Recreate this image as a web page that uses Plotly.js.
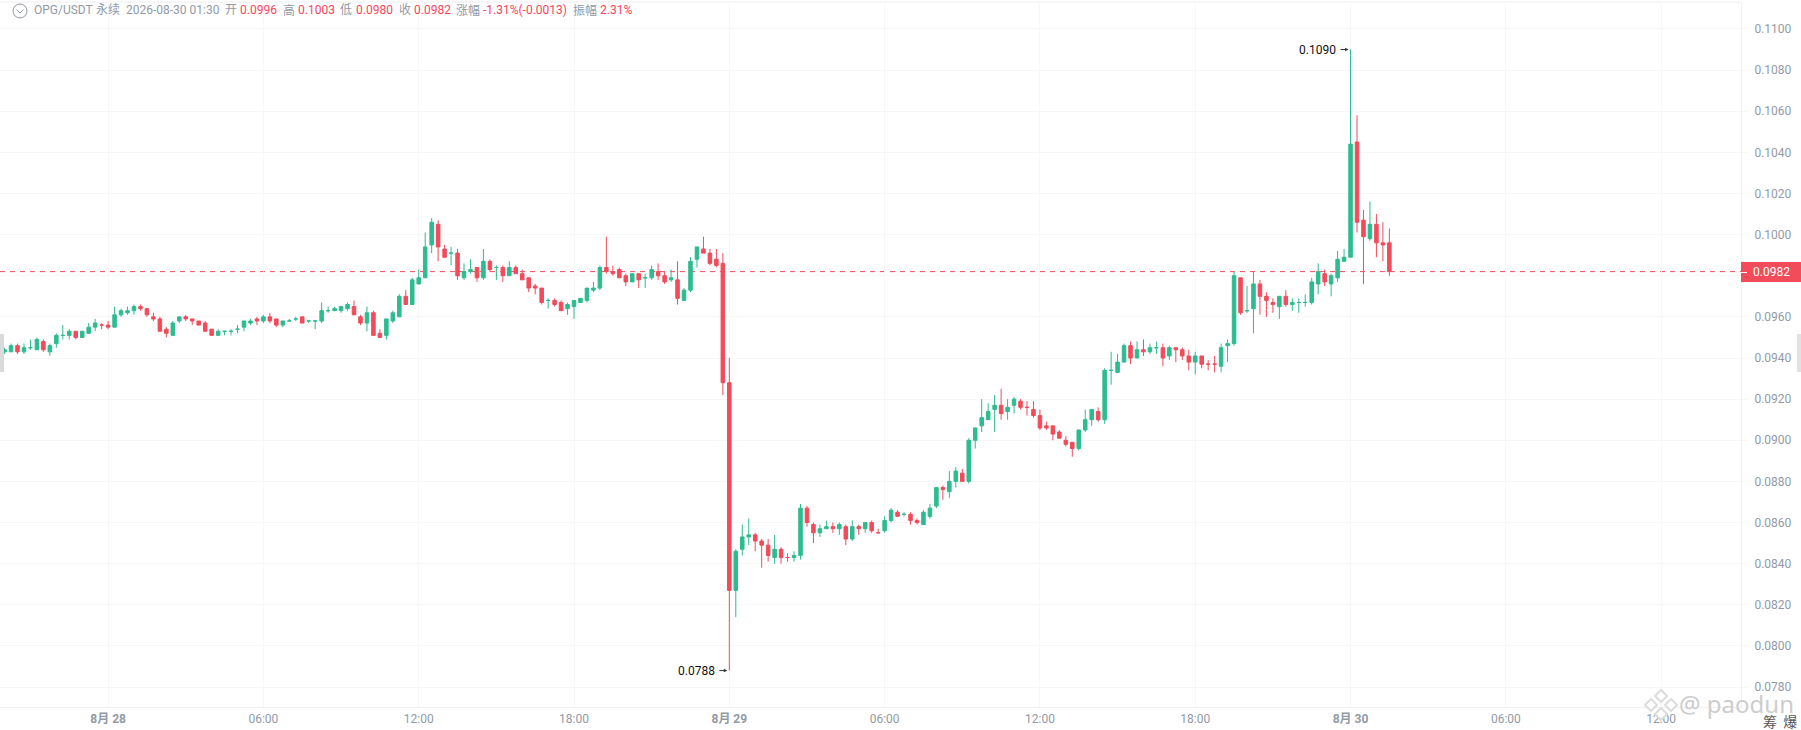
<!DOCTYPE html>
<html><head><meta charset="utf-8">
<script src="https://cdn.plot.ly/plotly-3.0.1.min.js"></script>
<style>html,body{margin:0;padding:0;background:#fff;overflow:hidden}#c{width:1801px;height:730px}</style>
</head><body><div id="c"></div>
<script>
const opens=[0.0943,0.0943,0.0946,0.0943,0.0945,0.0944,0.0948,0.0943,0.0947,0.0951,0.0951,0.0953,0.0950,0.0952,0.0955,0.0956,
0.0956,0.0955,0.0961,0.0962,0.0963,0.0965,0.0964,0.0960,0.0959,0.0954,0.0951,0.0958,0.0960,0.0959,0.0958,0.0957,0.0954,0.0951,0.0953,0.0953,0.0954,0.0955,0.0957,0.0959,0.0958,0.0960,0.0959,0.0956,0.0958,0.0959,0.0960,0.0958,0.0958,0.0958,0.0963,0.0963,0.0963,0.0964,0.0965,0.0960,0.0957,0.0962,0.0952,0.0951,0.0958,
0.0960,0.0970,0.0966,0.0976,0.0979,0.0995,0.1005,0.0993,0.0991,0.0991,0.0979,0.0982,0.0984,0.0979,0.0987,0.0984,0.0984,0.0980,0.0984,0.0981,0.0979,0.0975,0.0974,0.0968,0.0968,0.0967,0.0964,0.0965,0.0967,0.0968,0.0973,0.0974,0.0984,0.0982,0.0983,0.0980,0.0977,0.0981,0.0979,0.0979,0.0982,0.0980,0.0978,0.0978,0.0968,0.0973,0.0988,0.0993,0.0991,0.0988,
0.0986,0.0928,0.0827,0.0847,0.0853,0.0854,0.0851,0.0849,0.0843,0.0847,0.0843,0.0843,0.0844,0.0867,0.0859,0.0855,0.0857,0.0858,0.0857,0.0858,0.0852,0.0858,0.0857,0.0860,0.0855,0.0856,0.0861,0.0865,0.0864,0.0864,0.0861,0.0859,0.0863,0.0868,0.0877,
0.0875,0.0880,0.0884,0.0880,0.0900,0.0907,0.0910,0.0915,0.0917,0.0914,0.0917,0.0919,0.0916,0.0915,0.0912,0.0907,0.0907,0.0904,0.0900,0.0899,0.0896,0.0905,0.0910,0.0914,0.0910,0.0934,0.0933,0.0938,0.0946,0.0940,0.0944,0.0943,0.0945,0.0945,0.0941,0.0945,0.0944,0.0941,0.0938,0.0941,0.0937,0.0937,0.0936,
0.0946,0.0947,0.0979,0.0963,0.0964,0.0976,0.0970,0.0967,0.0965,0.0970,0.0966,0.0967,0.0967,0.0967,0.0976,0.0981,0.0976,0.0979,0.0987,0.0989,0.1045,0.1007,0.0998,0.1005,0.0996,0.0996];
const highs=[0.0945,0.0947,0.0947,0.0947,0.0949,0.0950,0.0949,0.0947,0.0952,0.0956,0.0954,0.0953,0.0953,0.0957,0.0959,0.0957,
0.0958,0.0965,0.0964,0.0965,0.0966,0.0966,0.0964,0.0962,0.0960,0.0955,0.0958,0.0960,0.0961,0.0959,0.0958,0.0958,0.0954,0.0954,0.0953,0.0954,0.0956,0.0958,0.0959,0.0960,0.0961,0.0962,0.0959,0.0958,0.0959,0.0960,0.0960,0.0958,0.0958,0.0967,0.0965,0.0965,0.0965,0.0967,0.0968,0.0961,0.0965,0.0963,0.0954,0.0959,0.0963,
0.0971,0.0973,0.0979,0.0983,0.1001,0.1008,0.1007,0.0995,0.0994,0.0993,0.0986,0.0988,0.0984,0.0993,0.0988,0.0985,0.0985,0.0987,0.0985,0.0983,0.0979,0.0976,0.0974,0.0969,0.0969,0.0968,0.0967,0.0968,0.0969,0.0974,0.0977,0.0985,0.0999,0.0985,0.0984,0.0981,0.0981,0.0981,0.0981,0.0985,0.0986,0.0982,0.0983,0.0987,0.0974,0.0989,0.0994,0.0999,0.0993,0.0993,
0.0991,0.0940,0.0847,0.0859,0.0862,0.0855,0.0852,0.0852,0.0854,0.0848,0.0845,0.0846,0.0869,0.0868,0.0860,0.0859,0.0861,0.0860,0.0860,0.0859,0.0861,0.0859,0.0860,0.0861,0.0857,0.0863,0.0867,0.0866,0.0865,0.0865,0.0862,0.0866,0.0869,0.0877,0.0878,
0.0885,0.0887,0.0886,0.0901,0.0906,0.0920,0.0918,0.0922,0.0925,0.0920,0.0921,0.0920,0.0919,0.0919,0.0915,0.0909,0.0907,0.0905,0.0902,0.0899,0.0905,0.0915,0.0915,0.0916,0.0935,0.0943,0.0942,0.0947,0.0948,0.0948,0.0949,0.0947,0.0948,0.0947,0.0946,0.0945,0.0945,0.0944,0.0943,0.0941,0.0939,0.0941,0.0947,
0.0949,0.0982,0.0979,0.0975,0.0982,0.0978,0.0972,0.0969,0.0970,0.0973,0.0969,0.0969,0.0971,0.0979,0.0986,0.0983,0.0981,0.0992,0.0993,0.1090,0.1058,0.1012,0.1016,0.1010,0.1006,0.1003];
const lows=[0.0942,0.0943,0.0942,0.0942,0.0944,0.0944,0.0943,0.0941,0.0945,0.0949,0.0949,0.0949,0.0950,0.0952,0.0953,0.0954,
0.0954,0.0955,0.0960,0.0961,0.0961,0.0963,0.0960,0.0958,0.0953,0.0950,0.0951,0.0957,0.0958,0.0956,0.0956,0.0953,0.0951,0.0951,0.0951,0.0951,0.0952,0.0953,0.0956,0.0956,0.0957,0.0957,0.0955,0.0955,0.0958,0.0958,0.0957,0.0957,0.0954,0.0957,0.0962,0.0963,0.0962,0.0963,0.0961,0.0956,0.0953,0.0951,0.0950,0.0949,0.0957,
0.0960,0.0966,0.0966,0.0976,0.0979,0.0991,0.0987,0.0989,0.0985,0.0978,0.0978,0.0981,0.0977,0.0978,0.0982,0.0978,0.0977,0.0980,0.0981,0.0978,0.0972,0.0971,0.0966,0.0964,0.0965,0.0963,0.0961,0.0959,0.0967,0.0967,0.0972,0.0973,0.0981,0.0980,0.0979,0.0975,0.0977,0.0974,0.0974,0.0978,0.0978,0.0976,0.0977,0.0966,0.0968,0.0972,0.0984,0.0991,0.0985,0.0984,
0.0922,0.0788,0.0814,0.0844,0.0849,0.0846,0.0838,0.0841,0.0840,0.0840,0.0841,0.0841,0.0842,0.0858,0.0850,0.0853,0.0857,0.0855,0.0854,0.0849,0.0851,0.0854,0.0855,0.0855,0.0855,0.0855,0.0860,0.0863,0.0863,0.0859,0.0859,0.0859,0.0862,0.0867,0.0871,
0.0872,0.0877,0.0880,0.0879,0.0896,0.0904,0.0910,0.0904,0.0910,0.0910,0.0913,0.0915,0.0912,0.0911,0.0905,0.0905,0.0900,0.0901,0.0897,0.0892,0.0895,0.0904,0.0907,0.0909,0.0908,0.0927,0.0933,0.0938,0.0937,0.0940,0.0941,0.0942,0.0942,0.0936,0.0939,0.0938,0.0939,0.0934,0.0932,0.0935,0.0934,0.0933,0.0933,
0.0938,0.0946,0.0961,0.0962,0.0952,0.0961,0.0960,0.0962,0.0959,0.0965,0.0963,0.0962,0.0965,0.0966,0.0971,0.0975,0.0970,0.0977,0.0987,0.0989,0.1001,0.0976,0.0997,0.0989,0.0987,0.0980];
const closes=[0.0944,0.0946,0.0943,0.0945,0.0945,0.0949,0.0944,0.0946,0.0951,0.0951,0.0953,0.0950,0.0953,0.0955,0.0957,0.0956,
0.0955,0.0961,0.0963,0.0963,0.0965,0.0964,0.0961,0.0959,0.0953,0.0952,0.0957,0.0960,0.0959,0.0958,0.0956,0.0953,0.0951,0.0953,0.0953,0.0953,0.0954,0.0958,0.0958,0.0958,0.0960,0.0958,0.0956,0.0958,0.0958,0.0959,0.0957,0.0958,0.0958,0.0963,0.0963,0.0964,0.0965,0.0966,0.0961,0.0957,0.0962,0.0951,0.0950,0.0959,0.0962,
0.0970,0.0966,0.0978,0.0979,0.0994,0.1006,0.0994,0.0989,0.0991,0.0980,0.0982,0.0983,0.0979,0.0987,0.0983,0.0984,0.0980,0.0984,0.0981,0.0978,0.0974,0.0974,0.0967,0.0968,0.0966,0.0963,0.0966,0.0968,0.0969,0.0974,0.0974,0.0984,0.0982,0.0981,0.0979,0.0977,0.0981,0.0978,0.0979,0.0983,0.0980,0.0977,0.0979,0.0969,0.0973,0.0987,0.0994,0.0991,0.0986,0.0985,
0.0928,0.0827,0.0846,0.0853,0.0854,0.0851,0.0849,0.0844,0.0847,0.0843,0.0843,0.0844,0.0867,0.0860,0.0855,0.0857,0.0858,0.0857,0.0859,0.0852,0.0858,0.0857,0.0860,0.0856,0.0855,0.0861,0.0866,0.0863,0.0864,0.0861,0.0860,0.0865,0.0867,0.0877,0.0876,
0.0880,0.0885,0.0880,0.0900,0.0906,0.0911,0.0914,0.0917,0.0913,0.0916,0.0920,0.0916,0.0916,0.0912,0.0906,0.0906,0.0903,0.0901,0.0898,0.0896,0.0905,0.0910,0.0915,0.0910,0.0934,0.0934,0.0938,0.0946,0.0940,0.0944,0.0943,0.0945,0.0945,0.0940,0.0945,0.0944,0.0941,0.0938,0.0941,0.0937,0.0937,0.0937,0.0945,
0.0947,0.0980,0.0962,0.0963,0.0976,0.0970,0.0968,0.0966,0.0970,0.0966,0.0967,0.0967,0.0967,0.0977,0.0982,0.0977,0.0980,0.0988,0.0989,0.1044,0.1006,0.0999,0.1005,0.0996,0.0995,0.0982];
const firstBar='2026-08-27T20:00:00Z';
const barMinutes=15;
const tickTimes=['2026-08-28 00:00','2026-08-28 06:00','2026-08-28 12:00','2026-08-28 18:00','2026-08-29 00:00','2026-08-29 06:00','2026-08-29 12:00','2026-08-29 18:00','2026-08-30 00:00','2026-08-30 06:00','2026-08-30 12:00'];
const tickLabels=['<b>8月 28</b>','06:00','12:00','18:00','<b>8月 29</b>','06:00','12:00','18:00','<b>8月 30</b>','06:00','12:00'];
const header=[['OPG/USDT',32,'g'],['永续',94,'g'],['2026-08-30 01:30',124,'g'],['开',223,'g'],['0.0996',238,'r'],['高',281,'g'],['0.1003',296,'r'],['低',338,'g'],['0.0980',354,'r'],['收',397,'g'],['0.0982',412,'r'],['涨幅',454,'g'],['-1.31%(-0.0013)',481,'r'],['振幅',571,'g'],['2.31%',598,'r']];
const lastPrice=0.0982;

const times=opens.map((_,i)=>new Date(Date.parse(firstBar)+i*barMinutes*60000).toISOString().slice(0,16).replace('T',' '));
const W=1801,H=730,L=0,R=1741,T=2,B=707;
const GREEN='#2DBC8F',RED='#F24B5A',TEXTRED='#F6465D',GREY='#929AA5',GRID='#F7F7F8';
const px=x=>(x-L)/(R-L), py=y=>1-(y-T)/(B-T);
const font={family:'Roboto, "Noto Sans CJK SC", sans-serif',size:12,color:GREY};
const annotations=header.map(h=>({xref:'paper',yref:'paper',x:px(h[1]),y:py(10),xanchor:'left',yanchor:'middle',text:h[0],showarrow:false,font:{...font,color:h[2]==='r'?TEXTRED:GREY}}));
function extreme(t,i,val){return {x:times[i],y:val,xref:'x',yref:'y',text:t,showarrow:true,ax:-33,ay:0,arrowhead:2,arrowsize:0.7,arrowwidth:1,arrowcolor:'#333',standoff:2,borderpad:4,font:{...font,color:'#111'}};}
annotations.push(extreme('0.1090',times.indexOf('2026-08-30 00:00'),Math.max(...highs)));
annotations.push(extreme('0.0788',lows.indexOf(Math.min(...lows)),Math.min(...lows)));
annotations.push({xref:'paper',yref:'paper',x:px(1771),y:py(272),xanchor:'center',yanchor:'middle',text:lastPrice.toFixed(4),showarrow:false,font:{...font,color:'#fff'}});
annotations.push({xref:'paper',yref:'paper',x:px(1677),y:py(703),xanchor:'left',yanchor:'middle',text:'@ paodun',showarrow:false,font:{family:'"Noto Sans", sans-serif',size:24,color:'#cdcdcd'}});
annotations.push({xref:'paper',yref:'paper',x:px(1761),y:py(721),xanchor:'left',yanchor:'middle',text:'筹&nbsp;&nbsp;爆',showarrow:false,font:{family:'"Noto Sans CJK SC", sans-serif',size:14,color:'#555'}});

const diamond=(cx,cy,r)=>`M${px(cx-r)} ${py(cy)} L${px(cx)} ${py(cy-r)} L${px(cx+r)} ${py(cy)} L${px(cx)} ${py(cy+r)} Z`;
const shapes=[
 {type:'line',xref:'paper',yref:'paper',x0:0,x1:1,y0:1,y1:1,line:{color:'#EEEEEE',width:1},layer:'below'},
 {type:'line',xref:'paper',yref:'y',x0:0,x1:1,y0:lastPrice,y1:lastPrice,line:{color:RED,width:1,dash:'5px,5px'},layer:'below'},
 {type:'rect',xref:'paper',yref:'paper',x0:px(1741),x1:px(1801),y0:py(262),y1:py(282),fillcolor:RED,line:{width:0},layer:'above'},
 {type:'line',xref:'paper',yref:'paper',x0:px(1741),x1:px(1747),y0:py(272.5),y1:py(272.5),line:{color:'#fff',width:1},layer:'above'},
 {type:'rect',xref:'paper',yref:'paper',x0:px(0),x1:px(4),y0:py(334),y1:py(372),fillcolor:'#DADADA',line:{width:0},layer:'above'},
 {type:'rect',xref:'paper',yref:'paper',x0:px(1797),x1:px(1801),y0:py(334),y1:py(372),fillcolor:'#E2E2E2',line:{width:0},layer:'above'},
 {type:'circle',xref:'paper',yref:'paper',x0:px(13),x1:px(27),y0:py(4),y1:py(18),line:{color:'#8F98A3',width:1},fillcolor:'rgba(0,0,0,0)',layer:'above'},
 {type:'path',xref:'paper',yref:'paper',path:`M${px(16.5)} ${py(9.5)} L${px(20)} ${py(13)} L${px(23.5)} ${py(9.5)}`,line:{color:'#8F98A3',width:1},layer:'above'}
];
[[1661,696,6],[1651,705,6],[1671,705,6],[1661,714,6]].forEach(d=>shapes.push({type:'path',xref:'paper',yref:'paper',path:diamond(d[0],d[1],d[2]),fillcolor:'#fff',line:{color:'#dcdcdc',width:2},layer:'above'}));

const trace={type:'candlestick',x:times,open:opens,high:highs,low:lows,close:closes,
 increasing:{line:{color:GREEN,width:1},fillcolor:GREEN},decreasing:{line:{color:RED,width:1},fillcolor:RED},
 whiskerwidth:0,hoverinfo:'skip',showlegend:false};
const layout={width:W,height:H,margin:{l:L,r:W-R,t:T,b:H-B,pad:0},paper_bgcolor:'#fff',plot_bgcolor:'#fff',font,showlegend:false,boxgap:0.22,
 xaxis:{type:'date',range:['2026-08-27 19:49:24','2026-08-30 15:05:06'],rangeslider:{visible:false},tickmode:'array',tickvals:tickTimes,ticktext:tickLabels,tickfont:font,showgrid:true,gridcolor:GRID,gridwidth:1,zeroline:false,showline:true,linecolor:'#F0F0F0',linewidth:1,ticks:'',automargin:false,tickangle:0,ticklabelstandoff:1},
 yaxis:{side:'right',range:[0.07703,0.11131],tickmode:'linear',tick0:0.078,dtick:0.002,tickformat:'.4f',tickfont:font,showgrid:true,gridcolor:GRID,gridwidth:1,zeroline:false,showline:true,linecolor:'#F0F0F0',linewidth:1,ticks:'outside',ticklen:6,tickcolor:GRID,automargin:false,ticklabelstandoff:4},
 shapes,annotations};
Plotly.newPlot('c',[trace],layout,{displayModeBar:false,staticPlot:true,responsive:false});
</script></body></html>
